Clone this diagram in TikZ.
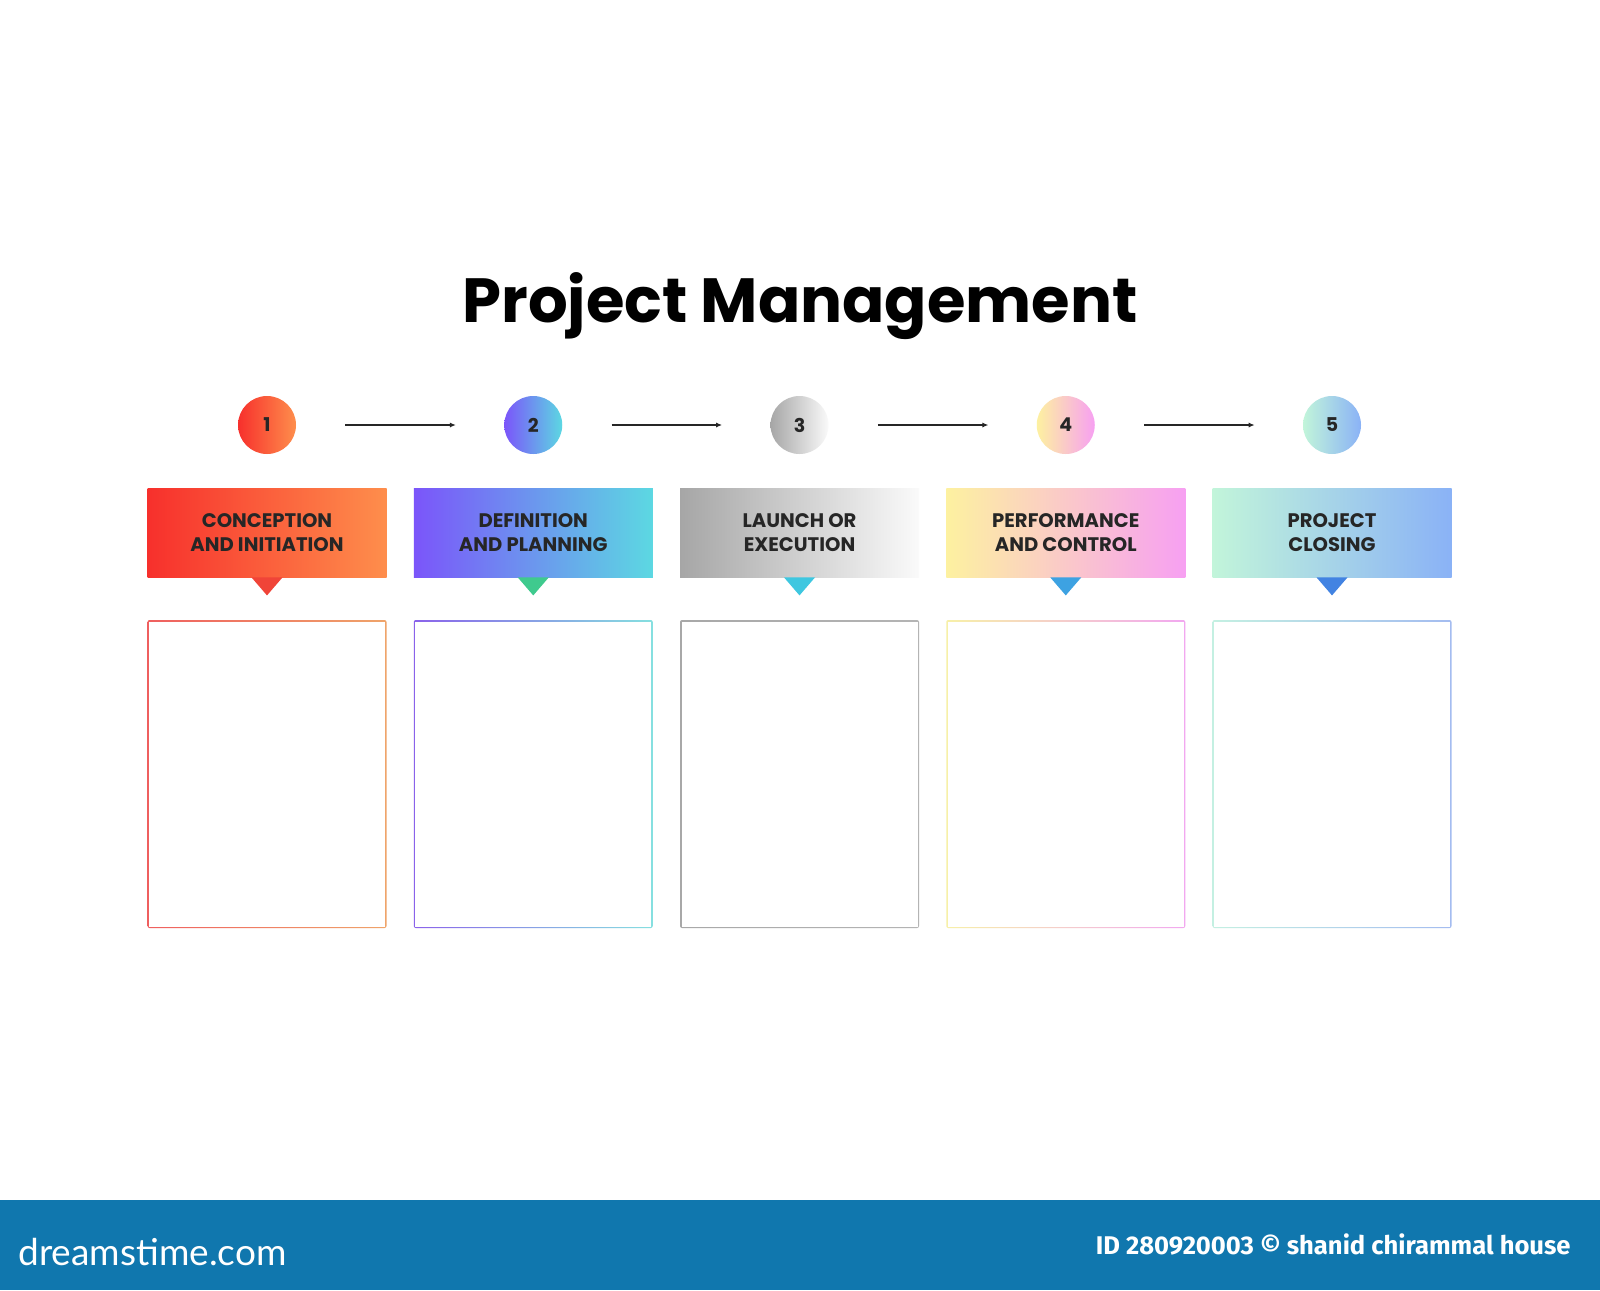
\documentclass[tikz,border=0pt]{standalone}
\usepackage{fontspec}
\setmainfont{Poppins}
\newfontfamily\idfont{Fira Sans}
\newfontfamily\logofont{Lato}
\usetikzlibrary{arrows.meta}
\definecolor{oneA}{HTML}{F7302C}
\definecolor{oneB}{HTML}{FE8E4C}
\definecolor{twoA}{HTML}{7B55FA}
\definecolor{twoB}{HTML}{5CD8E2}
\definecolor{thrA}{HTML}{A6A6A6}
\definecolor{thrB}{HTML}{FAFAFA}
\definecolor{fouA}{HTML}{FDF1A0}
\definecolor{fouB}{HTML}{F7A0F2}
\definecolor{fivA}{HTML}{C2F5DA}
\definecolor{fivB}{HTML}{8AB2F6}
\definecolor{triA}{HTML}{F04438}
\definecolor{triB}{HTML}{3FCA8E}
\definecolor{triC}{HTML}{3EC7E0}
\definecolor{triD}{HTML}{3DA2E2}
\definecolor{triE}{HTML}{4283E2}
\definecolor{frmA}{HTML}{EF5F5F}
\definecolor{frmB}{HTML}{EFA46A}
\definecolor{frmC}{HTML}{8A62EA}
\definecolor{frmD}{HTML}{86E0E0}
\definecolor{frmE}{HTML}{A8A8A8}
\definecolor{frmF}{HTML}{B4B4B4}
\definecolor{frmG}{HTML}{F7F0A8}
\definecolor{frmH}{HTML}{F2A8F0}
\definecolor{frmI}{HTML}{C4F0E2}
\definecolor{frmJ}{HTML}{A4BCF0}
\definecolor{barblue}{HTML}{1077AE}
\begin{document}
\begin{tikzpicture}[x=0.5pt,y=-0.5pt,
  numdot/.style={circle, minimum size=29pt, inner sep=0pt,
    font=\fontsize{9.5}{11}\selectfont\bfseries, text=black!85},
  headbox/.style={rectangle, minimum width=119.5pt, minimum height=44.5pt,
    inner sep=0pt, align=center, font=\fontsize{9.8}{12.25}\selectfont\bfseries,
    text=black!85},
  framebox/.style={rectangle, rounded corners=1pt, minimum width=119.5pt,
    minimum height=154pt, inner sep=0pt},
  innerbox/.style={rectangle, fill=white, minimum width=118pt,
    minimum height=152.5pt, inner sep=0pt},
  flow/.style={line width=0.7pt, black!85, -{Latex[length=3pt,width=2.6pt]},
    shorten <=24.5pt, shorten >=24pt}]
\useasboundingbox (0,0) rectangle (1600,1290);
\fill[white] (0,0) rectangle (1600,1290);

\node[anchor=base, font=\fontsize{31.2}{37}\selectfont\bfseries] (title) at (800,322) {Project Management};

\foreach \i/\x/\ca/\cb/\tc/\fa/\fb/\txt in {
  1/267/oneA/oneB/triA/frmA/frmB/{CONCEPTION\\AND INITIATION},
  2/533.25/twoA/twoB/triB/frmC/frmD/{DEFINITION\\AND PLANNING},
  3/799.5/thrA/thrB/triC/frmE/frmF/{LAUNCH OR\\EXECUTION},
  4/1065.75/fouA/fouB/triD/frmG/frmH/{PERFORMANCE\\AND CONTROL},
  5/1332/fivA/fivB/triE/frmI/frmJ/{PROJECT\\CLOSING}}{
  \node[numdot, left color=\ca, right color=\cb] (c\i) at (\x,425) {\i};
  \node[headbox, left color=\ca, right color=\cb] (h\i) at (\x,532.5) {\txt};
  \fill[\tc] ([xshift=-7.75pt]h\i.south) -- ([xshift=7.75pt]h\i.south)
    -- ([yshift=-9pt]h\i.south) -- cycle;
  \node[framebox, left color=\fa, right color=\fb] (b\i) at (\x,774) {};
  \node[innerbox] (w\i) at (b\i.center) {};
}
\foreach \i/\j in {1/2,2/3,3/4,4/5}{
  \draw[flow] (c\i) -- (c\j);
}

\fill[barblue] (0,1200) rectangle (1600,1290);
\node[anchor=west, text=white, font=\logofont\fontsize{18.5}{22}\selectfont, inner sep=0pt] (logo) at (18,1252) {dreamstime.com};
\node[anchor=east, text=white, font=\idfont\fontsize{12.8}{15}\selectfont\bfseries, inner sep=0pt] (credit) at (1571,1244) {ID 280920003 © shanid chirammal house};
\end{tikzpicture}
\end{document}
